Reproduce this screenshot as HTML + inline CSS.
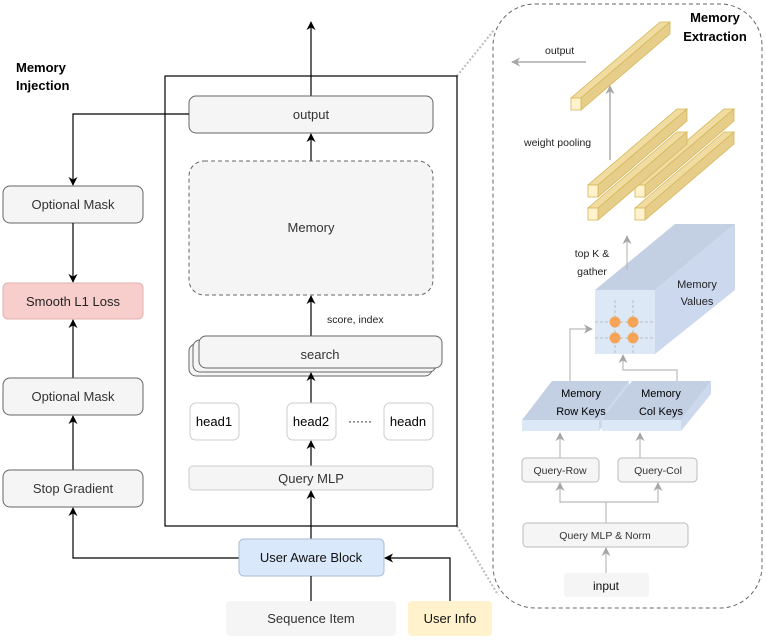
<!DOCTYPE html>
<html><head><meta charset="utf-8"><style>
html,body{margin:0;padding:0;background:#fff;}
svg{display:block;font-family:"Liberation Sans",Arial,sans-serif;}
</style></head><body>
<svg width="766" height="641" viewBox="0 0 766 641" xmlns="http://www.w3.org/2000/svg">
<defs>
<marker id="ab" viewBox="0 0 10 10" refX="9" refY="5" markerWidth="9" markerHeight="9" orient="auto-start-reverse" markerUnits="userSpaceOnUse"><path d="M0,0 L10,5 L0,10 L3,5 z" fill="#000"/></marker>
<marker id="ag" viewBox="0 0 10 10" refX="9" refY="5" markerWidth="9" markerHeight="9" orient="auto-start-reverse" markerUnits="userSpaceOnUse"><path d="M0,0 L10,5 L0,10 L3,5 z" fill="#a6a6a6"/></marker>
</defs>

<line x1="457" y1="76" x2="494" y2="30" stroke="#bbb" stroke-width="2" stroke-dasharray="2,2"/>
<line x1="457" y1="526" x2="498" y2="595" stroke="#bbb" stroke-width="2" stroke-dasharray="2,2"/>

<text x="16" y="72" font-size="13" font-weight="bold">Memory</text>
<text x="16" y="90" font-size="13" font-weight="bold">Injection</text>

<rect x="165" y="76" width="292" height="450" fill="none" stroke="#000" stroke-width="1.2"/>

<line x1="311" y1="96" x2="311" y2="22" stroke="#000" stroke-width="1.2" marker-end="url(#ab)"/>
<rect x="189" y="96" width="244" height="37" rx="7" fill="#f5f5f5" stroke="#666"/>
<text x="311" y="119" font-size="13" text-anchor="middle" fill="#333">output</text>

<polyline points="189,114 73,114 73,185" fill="none" stroke="#000" stroke-width="1.2" marker-end="url(#ab)"/>
<rect x="3" y="186" width="140" height="37" rx="7" fill="#f5f5f5" stroke="#666"/>
<text x="73" y="209" font-size="13" text-anchor="middle" fill="#333">Optional Mask</text>
<line x1="73" y1="223" x2="73" y2="282" stroke="#000" stroke-width="1.2" marker-end="url(#ab)"/>
<rect x="3" y="283" width="140" height="36" rx="5" fill="#f8cecc" stroke="#e0b0ae"/>
<text x="73" y="306" font-size="13" text-anchor="middle" fill="#222">Smooth L1 Loss</text>
<line x1="73" y1="378" x2="73" y2="320" stroke="#000" stroke-width="1.2" marker-end="url(#ab)"/>
<rect x="3" y="378" width="140" height="37" rx="7" fill="#f5f5f5" stroke="#666"/>
<text x="73" y="401" font-size="13" text-anchor="middle" fill="#333">Optional Mask</text>
<line x1="73" y1="470" x2="73" y2="416" stroke="#000" stroke-width="1.2" marker-end="url(#ab)"/>
<rect x="3" y="470" width="140" height="37" rx="7" fill="#f5f5f5" stroke="#666"/>
<text x="73" y="493" font-size="13" text-anchor="middle" fill="#333">Stop Gradient</text>

<line x1="311" y1="161" x2="311" y2="134" stroke="#000" stroke-width="1.2" marker-end="url(#ab)"/>
<rect x="189" y="161" width="244" height="134" rx="15" fill="#f5f5f5" stroke="#666" stroke-dasharray="4,3"/>
<text x="311" y="232" font-size="13" text-anchor="middle" fill="#333">Memory</text>

<line x1="311" y1="336" x2="311" y2="296" stroke="#000" stroke-width="1.2" marker-end="url(#ab)"/>
<text x="327" y="323" font-size="10.5" fill="#222">score, index</text>

<rect x="189" y="344" width="243" height="32" rx="7" fill="#f5f5f5" stroke="#666"/>
<rect x="193" y="340" width="243" height="32" rx="7" fill="#f5f5f5" stroke="#666"/>
<rect x="199" y="336" width="243" height="32" rx="7" fill="#f5f5f5" stroke="#666"/>
<text x="320" y="359" font-size="13" text-anchor="middle" fill="#333">search</text>

<line x1="311" y1="403" x2="311" y2="373" stroke="#000" stroke-width="1.2" marker-end="url(#ab)"/>
<rect x="190" y="403" width="49" height="37" rx="6" fill="#fff" stroke="#ccc"/>
<text x="214" y="426" font-size="13" text-anchor="middle">head1</text>
<rect x="287" y="403" width="49" height="37" rx="6" fill="#fff" stroke="#ccc"/>
<text x="311" y="426" font-size="13" text-anchor="middle">head2</text>
<text x="360" y="425" font-size="12" text-anchor="middle">······</text>
<rect x="384" y="403" width="49" height="37" rx="6" fill="#fff" stroke="#ccc"/>
<text x="408" y="426" font-size="13" text-anchor="middle">headn</text>

<line x1="311" y1="466" x2="311" y2="441" stroke="#000" stroke-width="1.2" marker-end="url(#ab)"/>
<rect x="189" y="466" width="244" height="24" rx="4" fill="#f5f5f5" stroke="#ccc"/>
<text x="311" y="483" font-size="13" text-anchor="middle" fill="#333">Query MLP</text>

<line x1="311" y1="539" x2="311" y2="491" stroke="#000" stroke-width="1.2" marker-end="url(#ab)"/>
<polyline points="239,558 73,558 73,508" fill="none" stroke="#000" stroke-width="1.2" marker-end="url(#ab)"/>
<rect x="239" y="539" width="145" height="37" rx="5" fill="#dae8fc" stroke="#a9bcd6"/>
<text x="311" y="562" font-size="13" text-anchor="middle" fill="#111">User Aware Block</text>
<line x1="311" y1="601" x2="311" y2="576" stroke="#000" stroke-width="1.2"/>
<polyline points="450,601 450,558 385,558" fill="none" stroke="#000" stroke-width="1.2" marker-end="url(#ab)"/>
<rect x="226" y="601" width="170" height="35" rx="4" fill="#f5f5f5"/>
<text x="311" y="623" font-size="13" text-anchor="middle" fill="#333">Sequence Item</text>
<rect x="408" y="601" width="84" height="35" rx="4" fill="#fff2cc"/>
<text x="450" y="623" font-size="13" text-anchor="middle" fill="#111">User Info</text>

<rect x="493" y="4" width="269" height="604" rx="42" fill="none" stroke="#666" stroke-dasharray="4,3"/>
<text x="715" y="22" font-size="13" font-weight="bold" text-anchor="middle">Memory</text>
<text x="715" y="41" font-size="13" font-weight="bold" text-anchor="middle">Extraction</text>

<g stroke="#d6b656" stroke-width="0.8">
  <polygon points="571,98 581,98 670,22 660,22" fill="#f0dba0"/>
  <polygon points="581,98 581,110 670,34 670,22" fill="#e6cd8a"/>
  <rect x="571" y="98" width="10" height="12" fill="#fff2cc"/>
</g>
<line x1="586" y1="62" x2="512" y2="62" stroke="#999" stroke-width="1.2" marker-end="url(#ag)"/>
<text x="545" y="54" font-size="10.5" fill="#222">output</text>
<line x1="610" y1="160" x2="610" y2="86" stroke="#999" stroke-width="1.2" marker-end="url(#ag)"/>
<text x="524" y="146" font-size="10.5" fill="#222">weight pooling</text>
<g stroke="#d6b656" stroke-width="0.8">
  <g transform="translate(17,87)"><polygon points="571,98 581,98 670,22 660,22" fill="#f0dba0"/><polygon points="581,98 581,110 670,34 670,22" fill="#e6cd8a"/><rect x="571" y="98" width="10" height="12" fill="#fff2cc"/></g>
  <g transform="translate(64,87)"><polygon points="571,98 581,98 670,22 660,22" fill="#f0dba0"/><polygon points="581,98 581,110 670,34 670,22" fill="#e6cd8a"/><rect x="571" y="98" width="10" height="12" fill="#fff2cc"/></g>
  <g transform="translate(17,110)"><polygon points="571,98 581,98 670,22 660,22" fill="#f0dba0"/><polygon points="581,98 581,110 670,34 670,22" fill="#e6cd8a"/><rect x="571" y="98" width="10" height="12" fill="#fff2cc"/></g>
  <g transform="translate(64,110)"><polygon points="571,98 581,98 670,22 660,22" fill="#f0dba0"/><polygon points="581,98 581,110 670,34 670,22" fill="#e6cd8a"/><rect x="571" y="98" width="10" height="12" fill="#fff2cc"/></g>
</g>

<polygon points="595,290 655,290 735,224 675,224" fill="#c3cfe2"/>
<polygon points="655,290 735,224 735,290 655,354" fill="#cbd8ee"/>
<rect x="595" y="290" width="60" height="64" fill="#dde8f7"/>
<g stroke="#b0b0b0" stroke-dasharray="3,2" stroke-width="0.8">
<line x1="615" y1="300" x2="615" y2="354"/><line x1="633" y1="300" x2="633" y2="354"/>
<line x1="595" y1="322" x2="655" y2="322"/><line x1="595" y1="338" x2="655" y2="338"/>
</g>
<g fill="#f5a55a"><circle cx="615" cy="322" r="5.5"/><circle cx="633" cy="322" r="5.5"/><circle cx="615" cy="338" r="5.5"/><circle cx="633" cy="338" r="5.5"/></g>
<text x="697" y="288" font-size="11" text-anchor="middle" fill="#222">Memory</text>
<text x="697" y="305" font-size="11" text-anchor="middle" fill="#222">Values</text>
<line x1="627" y1="270" x2="627" y2="236" stroke="#bbb" stroke-width="1.2" marker-end="url(#ag)"/>
<text x="592" y="257" font-size="10.5" text-anchor="middle" fill="#222">top K &amp;</text>
<text x="592" y="275" font-size="10.5" text-anchor="middle" fill="#222">gather</text>

<polygon points="522,420 599,420 629,381 552,381" fill="#c3cfe2"/>
<polygon points="599,420 629,381 629,394 599,431" fill="#cbd8ee"/>
<rect x="522" y="420" width="77" height="11" fill="#dde8f7"/>
<text x="581" y="397" font-size="11" text-anchor="middle">Memory</text>
<text x="581" y="415" font-size="11" text-anchor="middle">Row Keys</text>
<polygon points="602,420 681,420 711,381 632,381" fill="#c3cfe2"/>
<polygon points="681,420 711,381 711,394 681,431" fill="#cbd8ee"/>
<rect x="602" y="420" width="79" height="11" fill="#dde8f7"/>
<text x="661" y="397" font-size="11" text-anchor="middle">Memory</text>
<text x="661" y="415" font-size="11" text-anchor="middle">Col Keys</text>

<polyline points="570,381 570,329 592,329" fill="none" stroke="#bbb" stroke-width="1.2" marker-end="url(#ag)"/>
<polyline points="677,381 677,370 623,370 623,355" fill="none" stroke="#bbb" stroke-width="1.2" marker-end="url(#ag)"/>

<line x1="560" y1="458" x2="560" y2="433" stroke="#bbb" stroke-width="1.2" marker-end="url(#ag)"/>
<line x1="640" y1="458" x2="640" y2="433" stroke="#bbb" stroke-width="1.2" marker-end="url(#ag)"/>
<rect x="522" y="458" width="77" height="24" rx="4" fill="#f5f5f5" stroke="#bbb"/>
<text x="560" y="474" font-size="10.5" text-anchor="middle" fill="#333">Query-Row</text>
<rect x="618" y="458" width="79" height="24" rx="4" fill="#f5f5f5" stroke="#bbb"/>
<text x="658" y="474" font-size="10.5" text-anchor="middle" fill="#333">Query-Col</text>

<polyline points="560,483 560,502 658,502 658,483" fill="none" stroke="#bbb" stroke-width="1.2" marker-start="url(#ag)" marker-end="url(#ag)"/>
<line x1="606" y1="523" x2="606" y2="502" stroke="#bbb" stroke-width="1.2"/>
<rect x="523" y="523" width="165" height="24" rx="4" fill="#f5f5f5" stroke="#bbb"/>
<text x="605" y="539" font-size="10.5" text-anchor="middle" fill="#333">Query MLP &amp; Norm</text>
<line x1="606" y1="573" x2="606" y2="548" stroke="#bbb" stroke-width="1.2" marker-end="url(#ag)"/>
<rect x="564" y="573" width="85" height="24" rx="3" fill="#f5f5f5"/>
<text x="606" y="590" font-size="12" text-anchor="middle" fill="#111">input</text>
</svg>
</body></html>
